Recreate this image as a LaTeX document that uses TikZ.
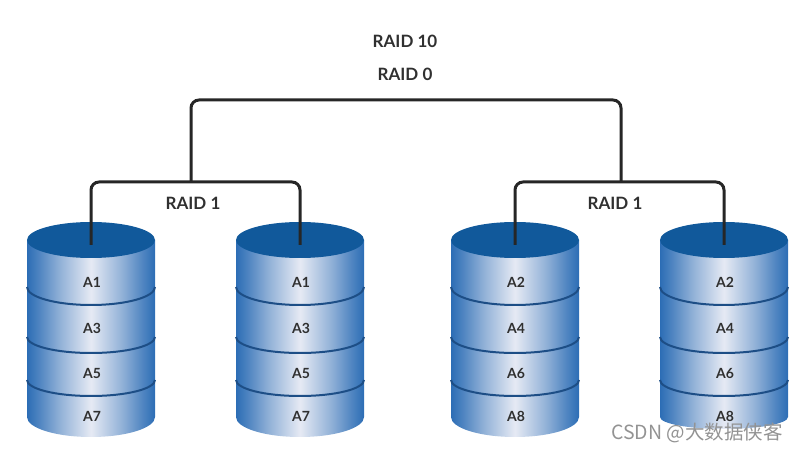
\documentclass[tikz,border=0pt]{standalone}
\usepackage{fontspec}
\setmainfont{Lato}
\newfontfamily\cjk{Noto Sans CJK SC}
\usetikzlibrary{positioning}
\definecolor{diskTop}{HTML}{11599B}
\definecolor{diskEdge}{HTML}{2C6DB5}
\definecolor{diskMid}{HTML}{E6EAF4}
\definecolor{diskLine}{HTML}{1D4E86}
\definecolor{railInk}{HTML}{262626}
\definecolor{labelInk}{HTML}{303030}
\pgfdeclarehorizontalshading{diskBody}{100bp}{
    color(0bp)=(diskEdge); color(25bp)=(diskEdge); color(30bp)=(diskEdge!80!diskMid);
    color(38bp)=(diskEdge!45!diskMid); color(50bp)=(diskMid);
    color(62bp)=(diskEdge!45!diskMid); color(70bp)=(diskEdge!80!diskMid);
    color(75bp)=(diskEdge); color(100bp)=(diskEdge)}
\tikzset{
    rail/.style={draw=railInk, line width=3pt, rounded corners=8pt},
    raid label/.style={font=\fontsize{17}{17}\selectfont\bfseries, text=labelInk, inner sep=0pt},
    slot label/.style={font=\fontsize{14}{14}\selectfont\bfseries, text=labelInk, inner sep=0pt},
    disk line/.style={draw=diskLine, line width=2pt},
    pics/disk/.style n args={5}{code={
        \shade[shading=diskBody]
            (-64,0) -- (-64,-177) arc[start angle=180, end angle=360, x radius=64, y radius=#5] -- (64,0) -- cycle;
        \fill[diskTop] (0,0) ellipse[x radius=64, y radius=18];
        \draw[disk line] (-64,-47) arc[start angle=180, end angle=360, x radius=64, y radius=18];
        \draw[disk line] (-64,-97) arc[start angle=180, end angle=360, x radius=64, y radius=16];
        \draw[disk line] (-64,-140) arc[start angle=180, end angle=360, x radius=64, y radius=16];
        \coordinate (-top) at (0,-5);
        \node[slot label] (-s1) at (1,-42) {#1};
        \node[slot label] (-s2) at (1,-88) {#2};
        \node[slot label] (-s3) at (1,-133) {#3};
        \node[slot label] (-s4) at (1,-176) {#4};
    }},
}

\begin{document}
\begin{tikzpicture}[x=1pt, y=1pt]
    \useasboundingbox (0,0) rectangle (798,450);

    \pic (disk1) at (91,210) {disk={A1}{A3}{A5}{A7}{20}};
    \pic (disk2) at (300,210) {disk={A1}{A3}{A5}{A7}{20}};
    \pic (disk3) at (515,210) {disk={A2}{A4}{A6}{A8}{20}};
    \pic (disk4) at (724,210) {disk={A2}{A4}{A6}{A8}{12}};

    \coordinate (mirrorL) at (191,268);
    \coordinate (mirrorR) at (621,268);
    \coordinate (stripe) at (406,350);

    \draw[rail] (disk1-top) |- (mirrorL) -| (disk2-top);
    \draw[rail] (disk3-top) |- (mirrorR) -| (disk4-top);
    \draw[rail] (mirrorL) |- (stripe) -| (mirrorR);

    \node[raid label] (title) at (405,409) {RAID 10};
    \node[raid label, below=20pt of title] (level0) {RAID 0};
    \node[raid label] (level1L) at (193,247) {RAID 1};
    \node[raid label] (level1R) at (615,247) {RAID 1};

    \node[inner sep=0pt, text=gray!85, font=\cjk\fontsize{19.5}{20}\selectfont] (mark) at (697,17) {CSDN @大数据侠客};
\end{tikzpicture}
\end{document}
